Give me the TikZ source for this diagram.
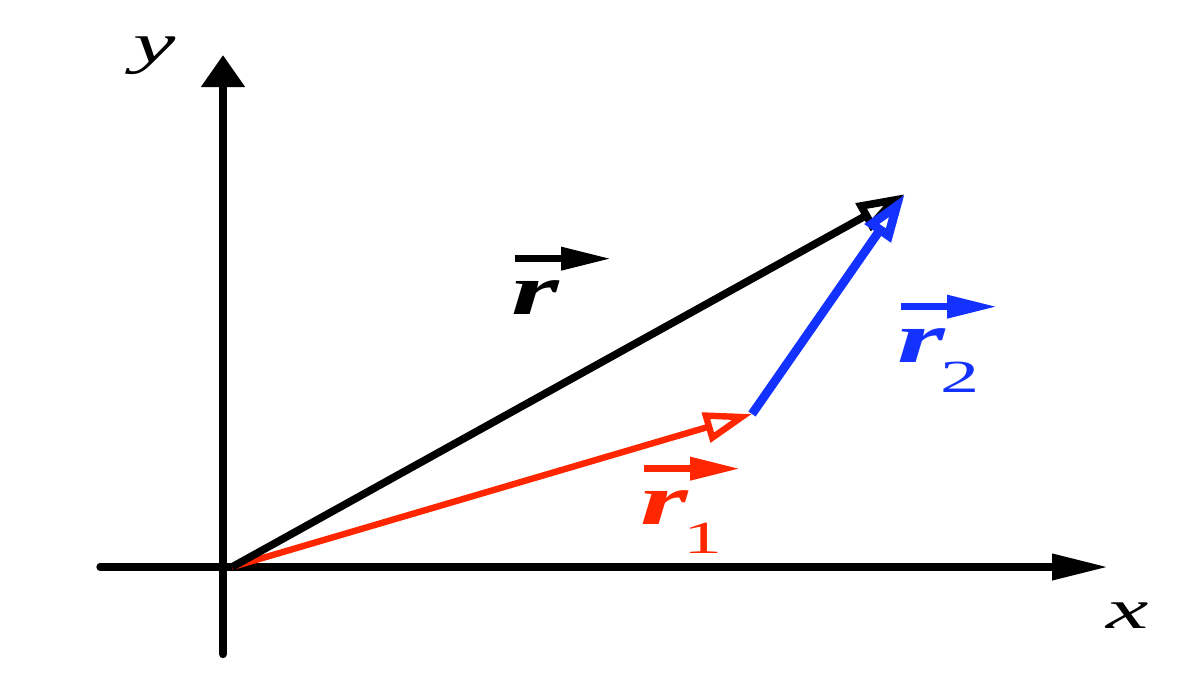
\documentclass[tikz,border=0pt]{standalone}
\usepackage{fontspec}
\setmainfont{Liberation Serif}
\usetikzlibrary{arrows.meta}
\definecolor{vecred}{RGB}{255,38,0}
\definecolor{vecblue}{RGB}{20,50,255}
\tikzset{
	axis/.style={line width=3.6pt, line cap=round},
	vector/.style={line width=3.8pt, -{Triangle[open, length=24pt, width=15pt]}},
	vecmark/.style={line width=3.4pt, -{Triangle[length=25pt, width=11pt]}},
	axislabel/.style={inner sep=0pt, xscale=1.7, font=\fontsize{28}{30}\selectfont\itshape},
	veclabel/.style={inner sep=0pt, xscale=1.7, font=\fontsize{36}{40}\selectfont\bfseries\itshape},
	sublabel/.style={inner sep=0pt, xscale=1.7, font=\fontsize{23}{25}\selectfont}
}

\begin{document}
\begin{tikzpicture}[x=0.5pt, y=-0.5pt]
		\useasboundingbox (0,0) rectangle (1200,682);
		% axes
		\coordinate (xstart) at (100,567);
		\coordinate (xend) at (1108,567);
		\coordinate (ystart) at (223,654);
		\coordinate (yend) at (223,55);
		\draw[axis, -{Triangle[length=28pt, width=12.5pt]}] (xstart) -- (xend);
		\draw[axis, line width=4.2pt, -{Triangle[length=16pt, width=21pt]}] (ystart) -- (yend);
		\node[axislabel] (xlab) at (1128,616) {x};
		\node[axislabel] (ylab) at (155,56) {y};
		% vectors
		\coordinate (O) at (232,567);
		\coordinate (A) at (752,414);
		\coordinate (B) at (905,194);
		\draw[vector, vecred, line width=3.2pt] (O) -- (A);
		\draw[vector] (O) -- (B);
		\draw[vector, vecblue, line width=4.4pt] (A) -- (B);
		% labels
		\node[veclabel] (rlab) at (535,298) {r};
		\node[veclabel, vecred] (ronelab) at (664,508) {r};
		\node[sublabel, vecred] (ronesub) at (703,538) {1};
		\node[veclabel, vecblue] (rtwolab) at (921,346) {r};
		\node[sublabel, vecblue] (rtwosub) at (960,377) {2};
		\foreach \lab/\col in {rlab/black, ronelab/vecred, rtwolab/vecblue}
			\draw[vecmark, \col] ([shift={(-20,-22)}]\lab.north) -- ++(96,0);
	\end{tikzpicture}
\end{document}
